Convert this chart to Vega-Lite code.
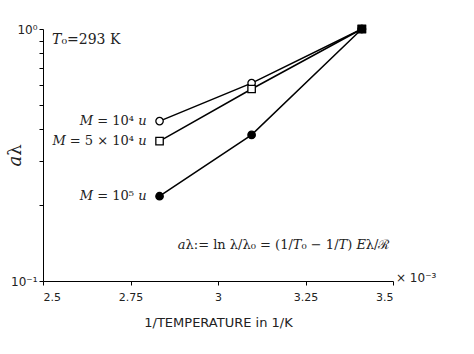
{
  "$schema": "https://vega.github.io/schema/vega-lite/v6.json",
  "width": 350,
  "height": 252,
  "autosize": {"type": "none"},
  "padding": {"left": 43, "top": 29, "right": 81, "bottom": 73},
  "background": "white",
  "config": {
    "view": {"stroke": null},
    "axis": {"grid": false, "domainColor": "black", "tickColor": "black", "labelColor": "#222", "titleColor": "#222"}
  },
  "datasets": {
    "points": [
      {"series": "𝑀 =  10⁴ 𝑢", "invT": 2.833, "a": 0.431},
      {"series": "𝑀 =  10⁴ 𝑢", "invT": 3.096, "a": 0.61},
      {"series": "𝑀 =  10⁴ 𝑢", "invT": 3.411, "a": 1.0},
      {"series": "𝑀 =  5 × 10⁴ 𝑢", "invT": 2.833, "a": 0.359},
      {"series": "𝑀 =  5 × 10⁴ 𝑢", "invT": 3.096, "a": 0.578},
      {"series": "𝑀 =  5 × 10⁴ 𝑢", "invT": 3.411, "a": 1.0},
      {"series": "𝑀 = 10⁵ 𝑢", "invT": 2.833, "a": 0.217},
      {"series": "𝑀 = 10⁵ 𝑢", "invT": 3.096, "a": 0.38},
      {"series": "𝑀 = 10⁵ 𝑢", "invT": 3.411, "a": 1.0}
    ],
    "notes": [
      {"label": "𝑇₀=293 K", "invT": 2.526, "a": 0.905, "kind": "t0"},
      {"label": "𝑎λ:= ln λ/λ₀ = (1/𝑇₀ − 1/𝑇) 𝐸λ/ℛ", "invT": 3.49, "a": 0.139, "kind": "formula"},
      {"label": "× 10⁻³", "invT": 3.5, "a": 0.1, "kind": "exp"}
    ]
  },
  "layer": [
    {
      "data": {"name": "points"},
      "mark": {"type": "line", "color": "black", "strokeWidth": 1.5},
      "encoding": {
        "x": {
          "field": "invT", "type": "quantitative",
          "scale": {"domain": [2.5, 3.5], "nice": false, "zero": false},
          "axis": {
            "values": [2.5, 2.75, 3, 3.25, 3.5],
            "labelExpr": "'' + datum.value",
            "title": "1/TEMPERATURE in 1/K",
            "labelFont": "DejaVu Sans", "labelFontSize": 11, "labelPadding": 6,
            "titleFont": "DejaVu Sans", "titleFontSize": 13, "titleFontWeight": "normal", "titlePadding": 14,
            "tickSize": 4
          }
        },
        "y": {
          "field": "a", "type": "quantitative",
          "scale": {"type": "log", "domain": [0.1, 1], "nice": false},
          "axis": {
            "values": [0.1, 0.2, 0.3, 0.4, 0.5, 0.6, 0.7, 0.8, 0.9, 1],
            "labelExpr": "datum.value == 1 ? '10⁰' : (datum.value == 0.1 ? '10⁻¹' : '')",
            "title": "𝑎λ",
            "labelFont": "DejaVu Sans", "labelFontSize": 12, "labelPadding": 2,
            "titleFont": "DejaVu Serif", "titleFontSize": 18, "titleFontWeight": "normal",
            "titleX": -28, "titleY": 126, "titleAngle": -90, "titleAlign": "center", "titleBaseline": "middle",
            "tickSize": 4
          }
        },
        "detail": {"field": "series"}
      }
    },
    {
      "data": {"name": "points"},
      "mark": {"type": "point", "filled": true, "stroke": "black", "strokeWidth": 1.3, "opacity": 1},
      "encoding": {
        "x": {"field": "invT", "type": "quantitative"},
        "y": {"field": "a", "type": "quantitative"},
        "shape": {"field": "series", "type": "nominal", "scale": {"domain": ["𝑀 =  10⁴ 𝑢", "𝑀 =  5 × 10⁴ 𝑢", "𝑀 = 10⁵ 𝑢"], "range": ["circle", "square", "circle"]}, "legend": null},
        "fill": {"field": "series", "type": "nominal", "scale": {"domain": ["𝑀 =  10⁴ 𝑢", "𝑀 =  5 × 10⁴ 𝑢", "𝑀 = 10⁵ 𝑢"], "range": ["white", "white", "black"]}, "legend": null},
        "size": {"value": 55}
      }
    },
    {
      "data": {"name": "points"},
      "transform": [{"filter": "datum.invT > 3.4 && datum.series == '𝑀 = 10⁵ 𝑢'"}],
      "mark": {"type": "point", "shape": "square", "filled": true, "color": "black", "size": 75, "opacity": 1},
      "encoding": {
        "x": {"field": "invT", "type": "quantitative"},
        "y": {"field": "a", "type": "quantitative"}
      }
    },
    {
      "data": {"name": "points"},
      "transform": [{"filter": "datum.invT < 2.9"}],
      "mark": {"type": "text", "align": "right", "baseline": "middle", "dx": -13, "font": "DejaVu Serif", "fontSize": 13, "color": "#222"},
      "encoding": {
        "x": {"field": "invT", "type": "quantitative"},
        "y": {"field": "a", "type": "quantitative"},
        "text": {"field": "series"}
      }
    },
    {
      "data": {"name": "notes"},
      "transform": [{"filter": "datum.kind == 't0'"}],
      "mark": {"type": "text", "align": "left", "baseline": "middle", "font": "DejaVu Serif", "fontSize": 14, "color": "#222"},
      "encoding": {
        "x": {"field": "invT", "type": "quantitative"},
        "y": {"field": "a", "type": "quantitative"},
        "text": {"field": "label"}
      }
    },
    {
      "data": {"name": "notes"},
      "transform": [{"filter": "datum.kind == 'formula'"}],
      "mark": {"type": "text", "align": "right", "baseline": "middle", "font": "DejaVu Serif", "fontSize": 13, "color": "#222"},
      "encoding": {
        "x": {"field": "invT", "type": "quantitative"},
        "y": {"field": "a", "type": "quantitative"},
        "text": {"field": "label"}
      }
    },
    {
      "data": {"name": "notes"},
      "transform": [{"filter": "datum.kind == 'exp'"}],
      "mark": {"type": "text", "align": "left", "baseline": "middle", "dx": 3, "dy": -3, "font": "DejaVu Sans", "fontSize": 12, "color": "#222"},
      "encoding": {
        "x": {"field": "invT", "type": "quantitative"},
        "y": {"field": "a", "type": "quantitative"},
        "text": {"field": "label"}
      }
    }
  ]
}
